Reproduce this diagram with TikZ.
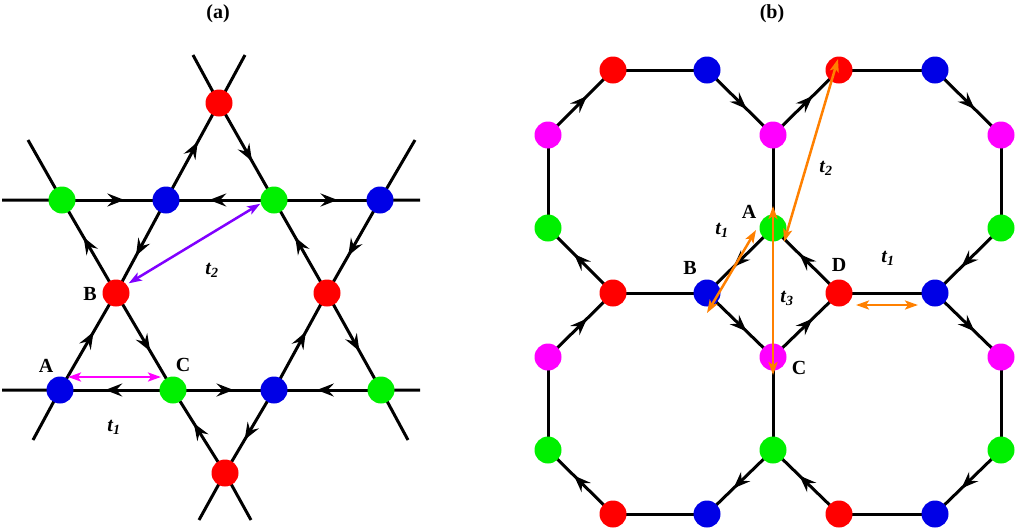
\documentclass[tikz,border=0pt]{standalone}
\usepackage{fontspec}
\setmainfont{Liberation Serif}
\usetikzlibrary{arrows.meta,decorations.markings}
\definecolor{cR}{RGB}{255,0,0}
\definecolor{cB}{RGB}{0,0,230}
\definecolor{cG}{RGB}{0,240,0}
\definecolor{cM}{RGB}{255,0,255}
\definecolor{cO}{RGB}{255,128,0}
\definecolor{cP}{RGB}{128,0,255}
\tikzset{
 ln/.style={line width=3pt,black},
 dir/.style={ln,postaction={decorate},decoration={markings,mark=at position 0.6 with {\arrow{Stealth[length=17pt,width=13pt,inset=6pt]}}}},
 site/.style={circle,inner sep=0pt,minimum size=27pt},
 hop/.style={line width=2.5pt,{Stealth[length=13pt,width=9pt,inset=3pt]}-{Stealth[length=13pt,width=9pt,inset=3pt]}},
 lab/.style={font=\fontsize{20}{22}\selectfont\bfseries},
 tlab/.style={font=\fontsize{20}{22}\selectfont\bfseries\itshape},
}
\begin{document}
\begin{tikzpicture}[x=1pt,y=-1pt]
\useasboundingbox (0,0) rectangle (1017,531);
% ---------- panel (a)
\coordinate (rT) at (219,103);
\coordinate (g1) at (62,200); \coordinate (b1) at (166,200);
\coordinate (g2) at (274,200); \coordinate (b2) at (380,200);
\coordinate (rB) at (116,293); \coordinate (r2) at (327,293);
\coordinate (bA) at (60,390); \coordinate (gC) at (173,390);
\coordinate (b3) at (274,390); \coordinate (g3) at (381,390);
\coordinate (rD) at (225,473);
\coordinate (eL1) at (2,200); \coordinate (eR1) at (420,200);
\coordinate (eL2) at (2,390); \coordinate (eR2) at (420,390);
\coordinate (e1) at (193,55); \coordinate (e2) at (245,55);
\coordinate (e3) at (28,140); \coordinate (e4) at (415,140);
\coordinate (e5) at (33,440); \coordinate (e6) at (408,440);
\coordinate (e7) at (199,520); \coordinate (e8) at (251,520);
\draw[ln] (eL1)--(g1) (b2)--(eR1) (eL2)--(bA) (g3)--(eR2)
 (rT)--(e1) (rT)--(e2) (g1)--(e3) (b2)--(e4) (bA)--(e5) (g3)--(e6) (rD)--(e7) (rD)--(e8);
\draw[dir] (g1)--(b1); \draw[dir] (g2)--(b1); \draw[dir] (g2)--(b2);
\draw[dir] (gC)--(bA); \draw[dir] (gC)--(b3); \draw[dir] (g3)--(b3);
\draw[dir] (b1)--(rT); \draw[dir] (rT)--(g2); \draw[dir] (b1)--(rB);
\draw[dir] (rB)--(g1); \draw[dir] (r2)--(g2); \draw[dir] (b2)--(r2);
\draw[dir] (bA)--(rB); \draw[dir] (rB)--(gC); \draw[dir] (b3)--(r2);
\draw[dir] (r2)--(g3); \draw[dir] (b3)--(rD); \draw[dir] (rD)--(gC);
\foreach \p/\c in {rT/cR,g1/cG,b1/cB,g2/cG,b2/cB,rB/cR,r2/cR,bA/cB,gC/cG,b3/cB,g3/cG,rD/cR}
 \node[site,fill=\c] (n\p) at (\p) {};
\draw[hop,cP] (nrB.north east) ++(3,0) coordinate (pa) -- ([xshift=-4pt,yshift=6pt]ng2.south west) coordinate (pb);
\draw[hop,cM] ([xshift=8pt,yshift=13pt]nbA.center) coordinate (pc) -- ([xshift=-12pt,yshift=13pt]ngC.center) coordinate (pd);
\node[tlab] (lt2a) at (212,270) {t\textsubscript{2}};
\node[tlab] (lt1a) at (114,427) {t\textsubscript{1}};
\node[lab] (lA) at (46,366) {A};
\node[lab] (lB) at (90,294) {B};
\node[lab] (lC) at (183,365) {C};
\node[lab] (ta) at (218,14) {(a)};
% ---------- panel (b)
\foreach \n/\x in {1/548,2/613,3/707,4/773,5/839,6/935,7/1001}
 \foreach \m/\y in {1/70,2/135,3/228,4/293,5/357,6/450,7/514}
  \coordinate (q\n\m) at (\x,\y);
\draw[ln] (q21)--(q31) (q51)--(q61) (q24)--(q34) (q54)--(q64) (q27)--(q37) (q57)--(q67)
 (q12)--(q13) (q42)--(q43) (q72)--(q73) (q15)--(q16) (q45)--(q46) (q75)--(q76);
\draw[dir] (q12)--(q21); \draw[dir] (q31)--(q42); \draw[dir] (q42)--(q51); \draw[dir] (q61)--(q72);
\draw[dir] (q24)--(q13); \draw[dir] (q43)--(q34); \draw[dir] (q54)--(q43); \draw[dir] (q73)--(q64);
\draw[dir] (q15)--(q24); \draw[dir] (q34)--(q45); \draw[dir] (q45)--(q54); \draw[dir] (q64)--(q75);
\draw[dir] (q27)--(q16); \draw[dir] (q46)--(q37); \draw[dir] (q57)--(q46); \draw[dir] (q76)--(q67);
\foreach \p/\c in {q21/cR,q31/cB,q51/cR,q61/cB,q12/cM,q42/cM,q72/cM,q13/cG,q43/cG,q73/cG,
 q24/cR,q34/cB,q54/cR,q64/cB,q15/cM,q45/cM,q75/cM,q16/cG,q46/cG,q76/cG,q27/cR,q37/cB,q57/cR,q67/cB}
 \node[site,fill=\c] (m\p) at (\p) {};
\draw[hop,cO] ([xshift=11pt,yshift=-14pt]mq43.center) -- ([xshift=-1pt,yshift=11pt]mq51.center);
\draw[hop,cO] ([xshift=0pt,yshift=-20pt]mq34.center) -- ([xshift=-17pt,yshift=-2pt]mq43.center);
\draw[hop,cO] ([yshift=22pt]mq43.center) -- ([yshift=-18pt]mq45.center);
\draw[hop,cO] ([xshift=17pt,yshift=-12pt]mq54.center) -- ([xshift=-17pt,yshift=-12pt]mq64.center);
\node[tlab] (lt2b) at (826,168) {t\textsubscript{2}};
\node[tlab] (lt1b) at (722,230) {t\textsubscript{1}};
\node[tlab] (lt3b) at (787,298) {t\textsubscript{3}};
\node[tlab] (lt1c) at (888,258) {t\textsubscript{1}};
\node[lab] (lAb) at (749,212) {A};
\node[lab] (lBb) at (690,268) {B};
\node[lab] (lCb) at (799,368) {C};
\node[lab] (lDb) at (839,265) {D};
\node[lab] (tb) at (772,14) {(b)};
\end{tikzpicture}
\end{document}
